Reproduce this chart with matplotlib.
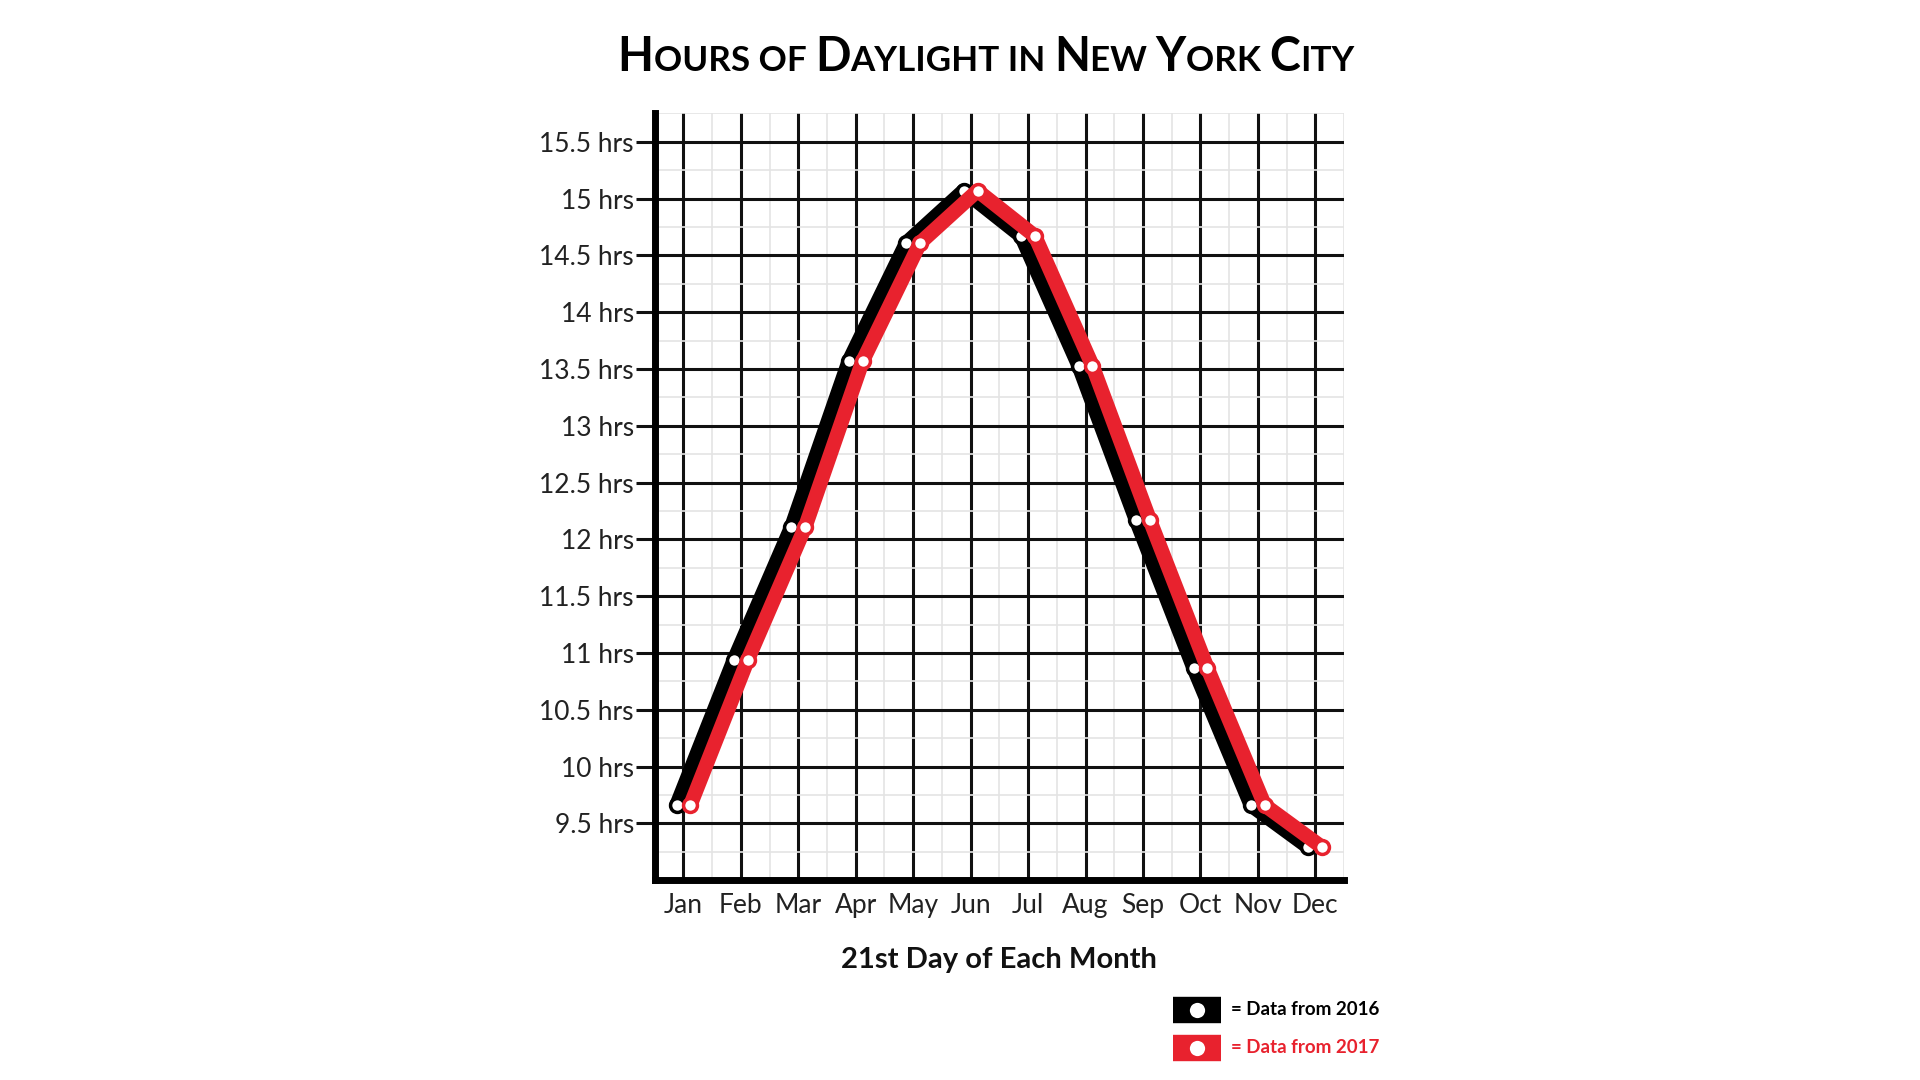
"""
Hours of daylight in New York City, 21st day of each month, 2016 vs 2017.
"""

import numpy as np
import matplotlib
matplotlib.use('Agg')
import matplotlib.pyplot as plt
from matplotlib.lines import Line2D
from matplotlib.ticker import MultipleLocator

plt.rcParams['font.family'] = ['Lato', 'DejaVu Sans']

months = ['Jan', 'Feb', 'Mar', 'Apr', 'May', 'Jun',
          'Jul', 'Aug', 'Sep', 'Oct', 'Nov', 'Dec']
hours_2016 = [9.66, 10.94, 12.11, 13.57, 14.61, 15.07,
              14.67, 13.53, 12.17, 10.87, 9.66, 9.29]
hours_2017 = [9.66, 10.94, 12.11, 13.57, 14.61, 15.07,
              14.67, 13.53, 12.17, 10.87, 9.66, 9.29]
y_ticks = [9.5, 10, 10.5, 11, 11.5, 12, 12.5, 13, 13.5, 14, 14.5, 15, 15.5]
y_tick_labels = ['9.5 hrs', '10 hrs', '10.5 hrs', '11 hrs', '11.5 hrs', '12 hrs',
                 '12.5 hrs', '13 hrs', '13.5 hrs', '14 hrs', '14.5 hrs', '15 hrs',
                 '15.5 hrs']

BLACK = '#000000'
RED = '#e8222e'

fig = plt.figure(figsize=(19.2, 10.8), dpi=100)
ax = fig.add_axes([0.341, 0.185, 0.359, 0.710])

x = np.arange(len(months))
shift = 0.12  # the two years are drawn side by side
ax.plot(x - shift, hours_2016, '-o', color=BLACK, lw=10.5, solid_capstyle='round',
        ms=10, mfc='white', mec=BLACK, mew=2.5, zorder=4)
ax.plot(x + shift, hours_2017, '-o', color=RED, lw=10.5, solid_capstyle='round',
        ms=10, mfc='white', mec=RED, mew=2.5, zorder=5)

ax.set_xlim(-0.5, 11.5)
ax.set_ylim(9.0, 15.75)
ax.set_xticks(x)
ax.set_xticklabels(months)
ax.set_yticks(y_ticks)
ax.set_yticklabels(y_tick_labels)
ax.xaxis.set_minor_locator(MultipleLocator(0.5))
ax.yaxis.set_minor_locator(MultipleLocator(0.25))

ax.grid(which='major', color='#111111', lw=2.2, zorder=1)
ax.grid(which='minor', color='#e4e4e4', lw=1.2, zorder=0)
ax.set_axisbelow(True)

for side in ['top', 'right']:
    ax.spines[side].set_visible(False)
for side in ['left', 'bottom']:
    ax.spines[side].set_linewidth(5)
    ax.spines[side].set_color(BLACK)

ax.tick_params(axis='y', which='major', length=14, width=2.2, color='#111111',
               labelsize=19, labelcolor='#222222', pad=1)
ax.tick_params(axis='x', which='major', length=0, labelsize=19,
               labelcolor='#222222', pad=9)
ax.tick_params(which='minor', length=0)

ax.set_xlabel('21st Day of Each Month', fontsize=21, fontweight='bold',
              color='#111111', labelpad=21)

# small-caps title built from pieces, scaled to span the same width as the original
pieces = [('H', True), ('OURS OF ', False), ('D', True), ('AYLIGHT IN ', False),
          ('N', True), ('EW ', False), ('Y', True), ('ORK ', False),
          ('C', True), ('ITY', False)]
big, small = 36, 27
target_w = 736
fig.canvas.draw()
renderer = fig.canvas.get_renderer()
texts = []
for s, is_big in pieces:
    t = fig.text(0, 0.934, s.replace(' ', '\u00a0'), fontsize=big if is_big else small,
                 fontweight='bold', color=BLACK, va='baseline', ha='left')
    texts.append(t)
total = sum(t.get_window_extent(renderer).width for t in texts)
k = target_w / total
for t, (s, is_big) in zip(texts, pieces):
    t.set_fontsize((big if is_big else small) * k)
widths = [t.get_window_extent(renderer).width for t in texts]
x0 = (986 - sum(widths) / 2) / 1920
for t, w in zip(texts, widths):
    t.set_x(x0)
    x0 += w / 1920

# legend drawn by hand
for y, c, label in [(0.065, BLACK, '= Data from 2016'), (0.030, RED, '= Data from 2017')]:
    fig.add_artist(Line2D([0.611, 0.636], [y, y], color=c, lw=19,
                          solid_capstyle='butt', transform=fig.transFigure))
    fig.add_artist(Line2D([0.6235], [y], marker='o', ms=14, mfc='white', mec=c,
                          mew=3, transform=fig.transFigure))
    fig.text(0.641, y, label, color=c, fontsize=13.5, fontweight='bold', va='center')

fig.savefig('out.png', dpi=100, facecolor='white')
